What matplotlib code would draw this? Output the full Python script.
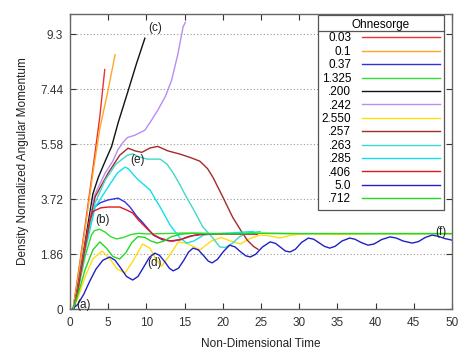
import matplotlib
matplotlib.use("Agg")
import matplotlib.pyplot as plt
from matplotlib.lines import Line2D

plt.rcParams['font.family'] = ['Liberation Sans', 'DejaVu Sans']

# ---- data ----
oh_labels = ["0.03", "0.1", "0.37", "1.325", ".200", ".242", "2.550",
             ".257", ".263", ".285", ".406", "5.0", ".712"]
colors = ["#f03030", "#ffa722", "#3030e8", "#30dd30", "#111111", "#b98cf5",
          "#ffdd10", "#a52a2a", "#40d8c8", "#10e0ee", "#e01818", "#2020c8",
          "#22d822"]

x_003 = [0.4, 1, 2, 3, 3.9, 4.55]
y_003 = [0, 1.05, 2.85, 4.75, 6.5, 8.1]

x_01 = [0.4, 1, 2, 3, 3.9, 4.9, 5.9]
y_01 = [0, 1.0, 2.75, 4.6, 6.1, 7.3, 8.6]

x_037 = [0.5, 1, 2, 2.6, 3.2, 4, 5, 6.3, 7.2, 7.85, 8.7, 9.6, 10.9, 12.2,
         13.5, 14.5, 15.5, 17, 20, 24.5]
y_037 = [0, 0.6, 2.1, 3.0, 3.45, 3.6, 3.69, 3.75, 3.62, 3.45, 3.15, 2.9,
         2.5, 2.33, 2.3, 2.35, 2.45, 2.53, 2.55, 2.55]

x_1325 = [0.4, 1, 2, 2.8, 3.2, 3.9, 4.6, 5.3, 6.1, 7, 8, 9, 10, 12, 15, 20,
          25, 30, 40, 50]
y_1325 = [0, 0.6, 1.8, 2.5, 2.65, 2.7, 2.6, 2.45, 2.37, 2.42, 2.52, 2.56,
          2.54, 2.55, 2.57, 2.55, 2.56, 2.55, 2.55, 2.55]

x_200 = [0.5, 1, 2, 3, 3.7, 4.6, 5.45, 6.3, 7.63, 8.7, 9.8]
y_200 = [0, 0.7, 2.3, 3.9, 4.45, 5.0, 5.5, 6.3, 7.4, 8.3, 9.16]

x_242 = [0.5, 1, 2, 3, 3.3, 4.6, 5.6, 6.3, 6.9, 7.5, 8.5, 9.8, 10.7, 11.5,
         12.5, 13.3, 14.1, 14.8, 15.1]
y_242 = [0, 0.65, 2.2, 3.6, 3.9, 4.6, 5.0, 5.4, 5.62, 5.8, 5.88, 6.05, 6.4,
         6.73, 7.2, 7.74, 8.6, 9.54, 9.7]

x_2550 = [0.4, 1, 2, 3, 4.2, 5.2, 6.2, 7.2, 8.2, 9.5, 10.5, 11.2, 12, 13,
          14.2, 15.5, 17, 18.5, 19.8, 21, 22.3, 23.5, 24.8, 26, 27.5, 29,
          31, 35, 40, 45, 50]
y_2550 = [0, 0.35, 1.1, 1.7, 1.96, 1.7, 1.35, 1.22, 1.6, 2.2, 2.05, 1.7,
          1.45, 1.8, 2.27, 2.2, 2.0, 2.3, 2.42, 2.3, 2.2, 2.38, 2.5, 2.48,
          2.4, 2.5, 2.55, 2.52, 2.55, 2.55, 2.55]

x_257 = [0.5, 1, 2, 3.3, 5, 6.5, 7.6, 8.5, 9.4, 10.5, 11.5, 12.8, 14.4,
         15.8, 17, 18, 18.7, 20, 21.3, 22.5, 23.2, 24, 24.6]
y_257 = [0, 0.65, 2.2, 3.8, 4.6, 5.2, 5.44, 5.35, 5.3, 5.45, 5.5, 5.35,
         5.24, 5.12, 5.0, 4.75, 4.46, 3.79, 3.1, 2.6, 2.33, 2.12, 2.02]

x_263 = [0.5, 1, 2, 3.3, 4.6, 6, 7.5, 8.2, 9, 10.1, 11.8, 12.7, 13.5, 14.4,
         15.2, 16.1, 17.4, 18.7, 19.6, 20.3, 21.3, 22.2, 23.2, 24.9]
y_263 = [0, 0.6, 2.1, 3.6, 4.36, 4.9, 5.2, 5.25, 5.15, 5.07, 5.07, 4.9,
         4.6, 4.2, 3.8, 3.4, 2.77, 2.4, 2.1, 2.08, 2.23, 2.45, 2.57, 2.62]

x_285 = [0.5, 1, 2, 3.3, 5, 6.2, 7.2, 7.6, 8.8, 10.5, 11.2, 11.8, 13.1,
         14.4, 15.3, 16.2, 17.5, 19, 21, 22.5, 24]
y_285 = [0, 0.6, 2.0, 3.45, 4.13, 4.6, 4.8, 4.75, 4.4, 4.02, 3.7, 3.45,
         2.84, 2.4, 2.23, 2.3, 2.5, 2.55, 2.57, 2.6, 2.62]

x_406 = [0.5, 1, 2, 2.6, 3, 4, 5, 6.5, 7.4, 8.2, 9, 10, 11, 11.8, 13.1,
         14.5, 16, 18, 24.5]
y_406 = [0, 0.6, 2.1, 3.0, 3.3, 3.42, 3.45, 3.45, 3.35, 3.25, 3.0, 2.74,
         2.5, 2.4, 2.3, 2.35, 2.48, 2.54, 2.53]

x_50 = [0.3, 1.0, 1.8, 2.6, 3.4, 4.3, 5.2, 5.9, 6.6, 7.4, 8.2, 8.9, 9.6,
        10.4, 11.1, 11.7, 12.4, 13.0, 13.5, 14.2, 14.9, 15.5, 16.1, 16.8,
        17.5, 18.1, 18.6, 19.3, 20.1, 20.9, 21.6, 22.3, 23.0, 23.6, 24.3,
        25.2, 26.2, 26.9, 27.6, 28.2, 28.8, 29.5, 30.3, 31.2, 31.9, 32.6,
        33.3, 34.0, 34.7, 35.6, 36.6, 37.3, 38.1, 39.0, 39.8, 40.8, 41.9,
        42.7, 43.6, 44.8, 45.6, 46.5, 47.4, 48.2, 49.1, 50]
y_50 = [0, 0.15, 0.5, 0.95, 1.35, 1.65, 1.76, 1.65, 1.4, 1.1, 0.98, 1.1,
        1.4, 1.75, 1.89, 1.82, 1.6, 1.38, 1.29, 1.38, 1.65, 1.92, 2.06, 2.0,
        1.8, 1.62, 1.56, 1.68, 1.95, 2.16, 2.1, 1.94, 1.8, 1.76, 1.85, 2.1,
        2.27, 2.22, 2.08, 1.96, 1.93, 2.02, 2.25, 2.4, 2.36, 2.24, 2.12,
        2.06, 2.12, 2.3, 2.4, 2.36, 2.25, 2.16, 2.2, 2.35, 2.44, 2.4, 2.3,
        2.23, 2.28, 2.42, 2.5, 2.46, 2.38, 2.33]

x_712 = [0.4, 1, 2, 3, 3.9, 4.8, 5.6, 6.5, 7.3, 8.1, 8.9, 9.8, 10.6, 11.4,
         12.3, 13.3, 14.5, 16, 18, 20, 25, 30, 40, 50]
y_712 = [0, 0.45, 1.35, 2.0, 2.27, 2.05, 1.78, 1.69, 1.9, 2.25, 2.45, 2.42,
         2.3, 2.23, 2.3, 2.45, 2.53, 2.56, 2.55, 2.54, 2.56, 2.55, 2.55, 2.55]

series_x = [x_003, x_01, x_037, x_1325, x_200, x_242, x_2550, x_257, x_263,
            x_285, x_406, x_50, x_712]
series_y = [y_003, y_01, y_037, y_1325, y_200, y_242, y_2550, y_257, y_263,
            y_285, y_406, y_50, y_712]

y_ticks = [0, 1.86, 3.72, 5.58, 7.44, 9.3]
y_ticklabels = ["0", "1.86", "3.72", "5.58", "7.44", "9.3"]
x_ticks = [0, 5, 10, 15, 20, 25, 30, 35, 40, 45, 50]

annotations = [("(a)", 1.75, 0.12), ("(b)", 4.3, 3.0), ("(c)", 11.1, 9.5),
               ("(d)", 11.1, 1.55), ("(e)", 8.8, 5.04), ("(f)", 48.6, 2.62)]

# ---- figure ----
fig = plt.figure(figsize=(4.74, 3.55), dpi=100)
ax = fig.add_axes([70/474, 1-309/355, 382/474, 295/355])

for xs, ys, c, lab in zip(series_x, series_y, colors, oh_labels):
    ax.plot(xs, ys, color=c, lw=1.0, label=lab)

ax.set_xlim(0, 50)
ax.set_ylim(0, 9.98)
ax.set_xticks(x_ticks)
ax.set_yticks(y_ticks)
ax.set_yticklabels(y_ticklabels)
ax.tick_params(direction='in', top=True, right=True, labelsize=8.5,
               colors='#333333', length=4, width=0.8, pad=5)
ax.tick_params(axis='x', pad=6)
for s in ax.spines.values():
    s.set_color('#666666')
    s.set_linewidth(1.0)
ax.yaxis.grid(True, linestyle=(0, (1, 2)), color='#999999', lw=0.8)
ax.set_axisbelow(True)

ax.set_xlabel("Non-Dimensional Time", fontsize=8.5, color='#222222', labelpad=6)
ax.set_ylabel("Density Normalized Angular Momentum", fontsize=8.5,
              color='#222222', labelpad=8)

for t, xx, yy in annotations:
    ax.text(xx, yy, t, fontsize=8.5, ha='center', va='center', color='#222222')

leg = ax.legend(loc='upper right', bbox_to_anchor=(0.979, 0.997),
                borderaxespad=0, title="Ohnesorge", fontsize=8.5,
                title_fontsize=8.5, markerfirst=False, handlelength=6.6,
                handletextpad=0.9, labelspacing=0.12, fancybox=False,
                framealpha=1, edgecolor='#555555', borderpad=0.35)
leg.get_frame().set_linewidth(0.9)
for txt in leg.get_texts():
    txt.set_ha('right')

fig.canvas.draw()
bb = leg.get_window_extent().transformed(fig.transFigure.inverted())
fig.add_artist(Line2D([bb.x0, bb.x1], [1-31/355, 1-31/355],
                      color='#555555', lw=0.9))

fig.savefig("out.png", dpi=100)
